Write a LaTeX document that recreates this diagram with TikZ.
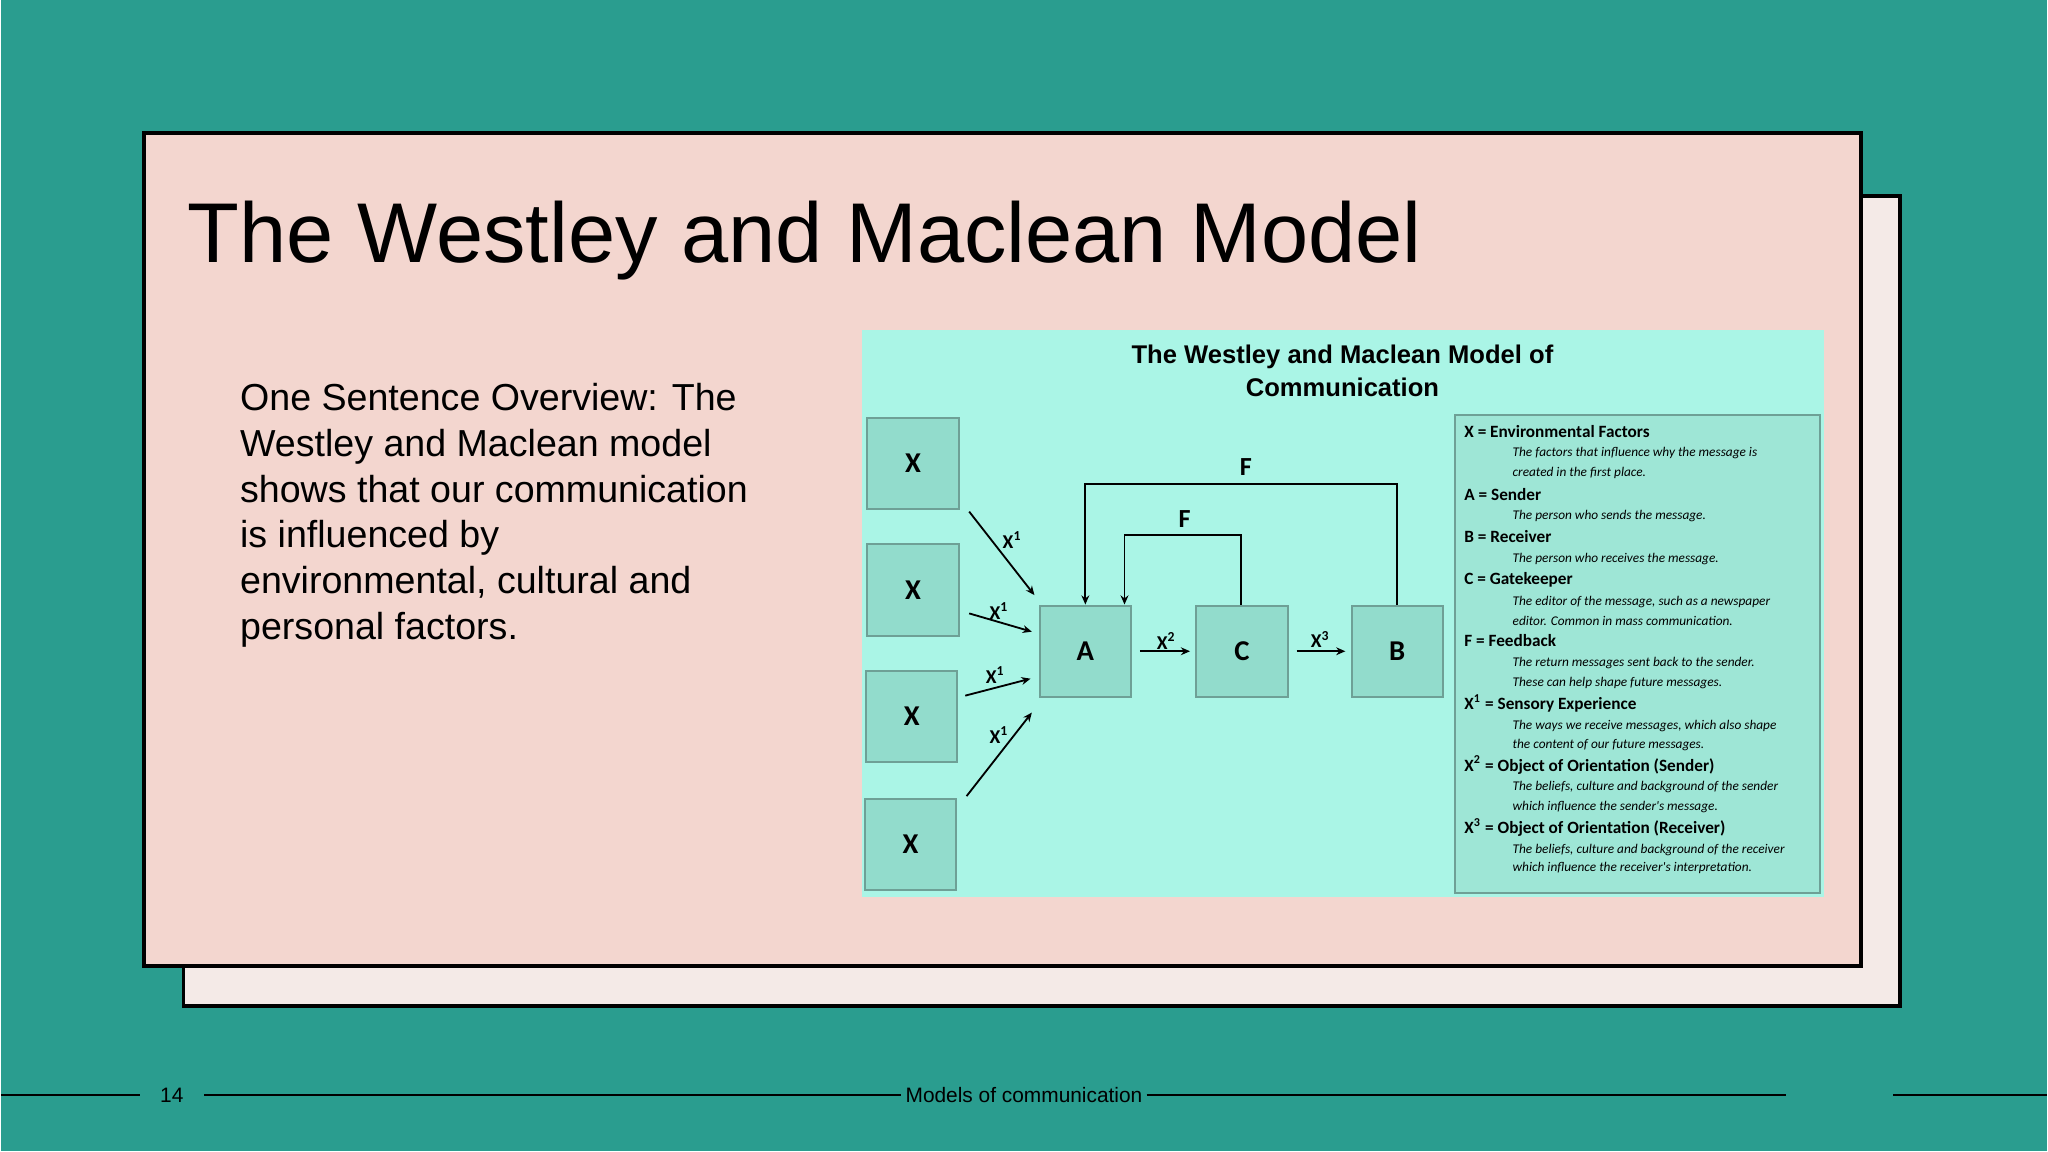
\documentclass[tikz,border=0pt]{standalone}
\usepackage{fontspec}
\setmainfont{Liberation Sans}
\newfontfamily\calfont{Carlito}
\usetikzlibrary{arrows.meta}
\definecolor{bgteal}{RGB}{42,157,143}
\definecolor{slide}{RGB}{243,214,207}
\definecolor{shadowc}{RGB}{244,234,231}
\definecolor{panel}{RGB}{170,245,230}
\definecolor{boxf}{RGB}{146,220,204}
\definecolor{legf}{RGB}{158,230,214}
\definecolor{boxd}{RGB}{110,160,150}
\begin{document}
\begin{tikzpicture}[x=0.5pt,y=-0.5pt,
  bx/.style={draw=boxd,fill=boxf,line width=0.8pt,minimum width=35pt,minimum height=35pt,inner sep=0,font=\calfont\bfseries\fontsize{11}{11}\selectfont},
  arr/.style={-{Stealth[length=3.5pt,width=3pt]},line width=0.7pt},
  lab/.style={font=\calfont\bfseries\fontsize{7.5}{8}\selectfont,inner sep=0},
  lh/.style={anchor=west,inner sep=0,font=\calfont\bfseries\fontsize{6.6}{7}\selectfont},
  ld/.style={anchor=west,inner sep=0,font=\calfont\itshape\fontsize{5.1}{6}\selectfont}]
\fill[bgteal] (0,0) rectangle (1568,882);
\draw[fill=shadowc,line width=1.5pt] (140,150) rectangle (1455,771);
\draw[fill=slide,line width=1.5pt] (110,102) rectangle (1425,740);
\node[anchor=base west,inner sep=0,font=\fontsize{32.5}{36}\selectfont] (title) at (143,201) {The Westley and Maclean Model};
\node[anchor=north west,inner sep=0,align=left,font=\fontsize{14.4}{17.6}\selectfont] (body) at (183,293) {One Sentence Overview: The\\Westley and Maclean model\\shows that our communication\\is influenced by\\environmental, cultural and\\personal factors.};
\fill[panel] (660,253) rectangle (1397,687);
\node[align=center,inner sep=0,font=\bfseries\fontsize{9.8}{12.5}\selectfont] (dt) at (1028,284) {The Westley and Maclean Model of\\Communication};
\node[bx] (x1) at (699,355) {X};
\node[bx] (x2) at (699,452) {X};
\node[bx] (x3) at (698,549) {X};
\node[bx] (x4) at (697,647) {X};
\node[bx] (A) at (831,499) {A};
\node[bx] (C) at (951,499) {C};
\node[bx] (B) at (1070,499) {B};
\coordinate (f1) at (831,371); \coordinate (f2) at (1070,371);
\coordinate (g1) at (950,410); \coordinate (g2) at (861,410);
\draw[arr] (B.north) -- (f2) -- (f1) -- (A.north);
\draw[arr] (C.north -| g1) -- (g1) -- (g2) -- (A.north -| g2);
\node[lab,font=\calfont\bfseries\fontsize{10}{10}\selectfont] (F1) at (954,358) {F};
\node[lab,font=\calfont\bfseries\fontsize{10}{10}\selectfont] (F2) at (907,398) {F};
\coordinate (s1) at (742,392); \coordinate (e1) at (792,456);
\coordinate (s2) at (742,470); \coordinate (e2) at (790,484);
\coordinate (s3) at (739,533); \coordinate (e3) at (789,520);
\coordinate (s4) at (740,610); \coordinate (e4) at (790,546);
\draw[arr] (s1) -- (e1); \draw[arr] (s2) -- (e2); \draw[arr] (s3) -- (e3); \draw[arr] (s4) -- (e4);
\node[lab] (l1) at (775,414) {X\textsuperscript{1}};
\node[lab] (l2) at (765,468) {X\textsuperscript{1}};
\node[lab] (l3) at (762,517) {X\textsuperscript{1}};
\node[lab] (l4) at (765,563) {X\textsuperscript{1}};
\draw[arr] ([xshift=3pt]A.east) -- ([xshift=-2pt]C.west);
\draw[arr] ([xshift=3pt]C.east) -- ([xshift=-2pt]B.west);
\node[lab] (l5) at (893,491) {X\textsuperscript{2}};
\node[lab] (l6) at (1011,490) {X\textsuperscript{3}};
\draw[draw=boxd,fill=legf,line width=0.8pt] (1114,318) rectangle (1394,684);
\node[lh] at (1121,331) {X = Environmental Factors};
\node[ld] at (1158,347) {The factors that influence why the message is};
\node[ld] at (1158,362) {created in the first place.};
\node[lh] at (1121,379) {A = Sender};
\node[ld] at (1158,395) {The person who sends the message.};
\node[lh] at (1121,411) {B = Receiver};
\node[ld] at (1158,428) {The person who receives the message.};
\node[lh] at (1121,444) {C = Gatekeeper};
\node[ld] at (1158,461) {The editor of the message, such as a newspaper};
\node[ld] at (1158,476) {editor. Common in mass communication.};
\node[lh] at (1121,491) {F = Feedback};
\node[ld] at (1158,508) {The return messages sent back to the sender.};
\node[ld] at (1158,523) {These can help shape future messages.};
\node[lh] at (1121,539) {X\textsuperscript{1} = Sensory Experience};
\node[ld] at (1158,556) {The ways we receive messages, which also shape};
\node[ld] at (1158,571) {the content of our future messages.};
\node[lh] at (1121,586) {X\textsuperscript{2} = Object of Orientation (Sender)};
\node[ld] at (1158,603) {The beliefs, culture and background of the sender};
\node[ld] at (1158,618) {which influence the sender's message.};
\node[lh] at (1121,634) {X\textsuperscript{3} = Object of Orientation (Receiver)};
\node[ld] at (1158,651) {The beliefs, culture and background of the receiver};
\node[ld] at (1158,665) {which influence the receiver's interpretation.};
\draw[line width=0.6pt] (0,839) -- (107,839);
\node[inner sep=0,font=\fontsize{8}{8}\selectfont] (pg) at (131,839) {14};
\draw[line width=0.6pt] (156,839) -- (690,839);
\node[inner sep=0,font=\fontsize{8}{8}\selectfont] (ft) at (784,839) {Models of communication};
\draw[line width=0.6pt] (878,839) -- (1368,839);
\draw[line width=0.6pt] (1450,839) -- (1568,839);
\end{tikzpicture}
\end{document}
